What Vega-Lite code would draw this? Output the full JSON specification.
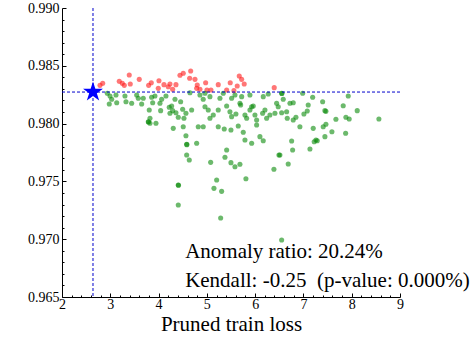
{
  "$schema": "https://vega.github.io/schema/vega-lite/v6.json",
  "width": 338,
  "height": 289,
  "autosize": "none",
  "padding": {"left": 62, "top": 8, "right": 74, "bottom": 42},
  "background": "white",
  "config": {
    "view": {"stroke": null},
    "font": "Liberation Serif",
    "style": {"guide-label": {"font": "Liberation Serif", "fontSize": 14, "fill": "black"}, "guide-title": {"font": "Liberation Serif"}},
    "axis": {"grid": false, "domainColor": "black", "tickColor": "black", "labelFont": "Liberation Serif"}
  },
  "resolve": {"axis": {"x": "independent", "y": "independent"}},
  "datasets": {
    "pts": [
      {"x":2.787,"y":0.98331,"g":"a"},{"x":2.843,"y":0.98349,"g":"a"},{"x":3.186,"y":0.98366,"g":"a"},{"x":3.248,"y":0.98349,"g":"a"},{"x":3.290,"y":0.98331,"g":"a"},{"x":3.393,"y":0.98420,"g":"a"},{"x":3.414,"y":0.98343,"g":"a"},{"x":3.600,"y":0.98383,"g":"a"},{"x":3.795,"y":0.98331,"g":"a"},{"x":3.849,"y":0.98354,"g":"a"},{"x":4.008,"y":0.98371,"g":"a"},{"x":3.994,"y":0.98305,"g":"a"},{"x":4.112,"y":0.98337,"g":"a"},{"x":4.201,"y":0.98319,"g":"a"},{"x":4.236,"y":0.98343,"g":"a"},{"x":4.292,"y":0.98297,"g":"a"},{"x":4.360,"y":0.98337,"g":"a"},{"x":4.443,"y":0.98418,"g":"a"},{"x":4.511,"y":0.98435,"g":"a"},{"x":4.665,"y":0.98455,"g":"a"},{"x":4.644,"y":0.98392,"g":"a"},{"x":4.754,"y":0.98383,"g":"a"},{"x":4.801,"y":0.98334,"g":"a"},{"x":4.789,"y":0.98305,"g":"a"},{"x":4.857,"y":0.98297,"g":"a"},{"x":4.975,"y":0.98354,"g":"a"},{"x":5.002,"y":0.98291,"g":"a"},{"x":5.085,"y":0.98291,"g":"a"},{"x":5.236,"y":0.98337,"g":"a"},{"x":5.410,"y":0.98291,"g":"a"},{"x":5.484,"y":0.98354,"g":"a"},{"x":5.561,"y":0.98285,"g":"a"},{"x":5.629,"y":0.98325,"g":"a"},{"x":5.671,"y":0.98412,"g":"a"},{"x":5.720,"y":0.98383,"g":"a"},{"x":5.774,"y":0.98343,"g":"a"},{"x":6.395,"y":0.98311,"g":"a"},
      {"x":2.938,"y":0.98262,"g":"n"},{"x":2.994,"y":0.98239,"g":"n"},{"x":3.029,"y":0.98210,"g":"n"},{"x":2.979,"y":0.98170,"g":"n"},{"x":3.118,"y":0.98247,"g":"n"},{"x":3.133,"y":0.98181,"g":"n"},{"x":3.304,"y":0.98239,"g":"n"},{"x":3.325,"y":0.98189,"g":"n"},{"x":3.443,"y":0.98176,"g":"n"},{"x":3.547,"y":0.98247,"g":"n"},{"x":3.580,"y":0.98219,"g":"n"},{"x":3.650,"y":0.98170,"g":"n"},{"x":3.683,"y":0.98219,"g":"n"},{"x":3.807,"y":0.98118,"g":"n"},{"x":3.787,"y":0.98016,"g":"n"},{"x":3.792,"y":0.98014,"g":"n"},{"x":3.822,"y":0.98003,"g":"n"},{"x":3.857,"y":0.98228,"g":"n"},{"x":3.878,"y":0.98181,"g":"n"},{"x":3.925,"y":0.98239,"g":"n"},{"x":4.029,"y":0.98176,"g":"n"},{"x":4.043,"y":0.98112,"g":"n"},{"x":4.064,"y":0.98210,"g":"n"},{"x":4.153,"y":0.98239,"g":"n"},{"x":4.221,"y":0.98141,"g":"n"},{"x":4.236,"y":0.98089,"g":"n"},{"x":4.271,"y":0.98152,"g":"n"},{"x":4.292,"y":0.98112,"g":"n"},{"x":4.340,"y":0.98210,"g":"n"},{"x":4.360,"y":0.98094,"g":"n"},{"x":4.408,"y":0.98055,"g":"n"},{"x":4.457,"y":0.98189,"g":"n"},{"x":4.499,"y":0.98124,"g":"n"},{"x":4.526,"y":0.98046,"g":"n"},{"x":4.567,"y":0.98089,"g":"n"},{"x":4.304,"y":0.97959,"g":"n"},{"x":3.822,"y":0.98046,"g":"n"},{"x":3.946,"y":0.98003,"g":"n"},
      {"x":4.650,"y":0.98267,"g":"n"},{"x":4.857,"y":0.98247,"g":"n"},{"x":4.961,"y":0.98262,"g":"n"},{"x":4.925,"y":0.98210,"g":"n"},{"x":5.064,"y":0.98233,"g":"n"},{"x":5.271,"y":0.98219,"g":"n"},{"x":5.340,"y":0.98262,"g":"n"},{"x":5.513,"y":0.98219,"g":"n"},{"x":5.582,"y":0.98247,"g":"n"},{"x":5.721,"y":0.98233,"g":"n"},{"x":5.892,"y":0.98247,"g":"n"},{"x":5.685,"y":0.98176,"g":"n"},{"x":5.928,"y":0.98146,"g":"n"},{"x":6.168,"y":0.98233,"g":"n"},{"x":6.271,"y":0.98256,"g":"n"},{"x":4.685,"y":0.98118,"g":"n"},{"x":4.961,"y":0.98146,"g":"n"},{"x":5.029,"y":0.98118,"g":"n"},{"x":5.064,"y":0.98046,"g":"n"},{"x":5.133,"y":0.98074,"g":"n"},{"x":5.236,"y":0.98118,"g":"n"},{"x":5.410,"y":0.98152,"g":"n"},{"x":5.478,"y":0.98103,"g":"n"},{"x":5.513,"y":0.98060,"g":"n"},{"x":5.602,"y":0.98083,"g":"n"},{"x":5.700,"y":0.98161,"g":"n"},{"x":5.789,"y":0.98074,"g":"n"},{"x":5.824,"y":0.98046,"g":"n"},{"x":5.892,"y":0.98118,"g":"n"},{"x":5.961,"y":0.98152,"g":"n"},{"x":5.996,"y":0.98074,"g":"n"},{"x":6.031,"y":0.98031,"g":"n"},{"x":6.155,"y":0.98089,"g":"n"},{"x":6.203,"y":0.98118,"g":"n"},{"x":6.238,"y":0.98046,"g":"n"},{"x":6.306,"y":0.98074,"g":"n"},{"x":6.410,"y":0.98089,"g":"n"},{"x":6.445,"y":0.98176,"g":"n"},{"x":6.478,"y":0.98146,"g":"n"},
      {"x":6.549,"y":0.98262,"g":"n"},{"x":6.555,"y":0.98260,"g":"n"},{"x":6.582,"y":0.98210,"g":"n"},{"x":6.721,"y":0.98176,"g":"n"},{"x":6.789,"y":0.98181,"g":"n"},{"x":6.845,"y":0.98055,"g":"n"},{"x":6.789,"y":0.98031,"g":"n"},{"x":6.652,"y":0.98103,"g":"n"},{"x":6.549,"y":0.98094,"g":"n"},{"x":6.665,"y":0.98046,"g":"n"},
      {"x":6.984,"y":0.98262,"g":"n"},{"x":7.191,"y":0.98228,"g":"n"},{"x":7.398,"y":0.98189,"g":"n"},{"x":7.928,"y":0.98239,"g":"n"},{"x":7.099,"y":0.98161,"g":"n"},{"x":7.079,"y":0.98109,"g":"n"},{"x":7.010,"y":0.98083,"g":"n"},{"x":7.445,"y":0.98112,"g":"n"},{"x":7.466,"y":0.98106,"g":"n"},{"x":7.824,"y":0.98155,"g":"n"},{"x":8.114,"y":0.98112,"g":"n"},{"x":7.673,"y":0.98037,"g":"n"},{"x":7.880,"y":0.98055,"g":"n"},{"x":7.948,"y":0.98040,"g":"n"},{"x":8.563,"y":0.98040,"g":"n"},{"x":6.927,"y":0.97973,"g":"n"},{"x":7.203,"y":0.97959,"g":"n"},{"x":7.410,"y":0.97973,"g":"n"},{"x":7.466,"y":0.97994,"g":"n"},{"x":7.590,"y":0.97930,"g":"n"},{"x":7.445,"y":0.97887,"g":"n"},{"x":7.259,"y":0.97858,"g":"n"},{"x":7.286,"y":0.97852,"g":"n"},{"x":7.223,"y":0.97843,"g":"n"},{"x":7.874,"y":0.97916,"g":"n"},{"x":7.135,"y":0.97780,"g":"n"},
      {"x":6.756,"y":0.97850,"g":"n"},{"x":6.776,"y":0.97772,"g":"n"},{"x":6.513,"y":0.97728,"g":"n"},
      {"x":4.511,"y":0.97973,"g":"n"},{"x":4.567,"y":0.97895,"g":"n"},{"x":4.582,"y":0.97821,"g":"n"},{"x":4.586,"y":0.97818,"g":"n"},{"x":4.582,"y":0.97728,"g":"n"},{"x":4.636,"y":0.97685,"g":"n"},{"x":4.408,"y":0.97469,"g":"n"},{"x":4.412,"y":0.97467,"g":"n"},{"x":4.822,"y":0.97973,"g":"n"},{"x":4.925,"y":0.97973,"g":"n"},{"x":5.236,"y":0.97973,"g":"n"},{"x":5.360,"y":0.97953,"g":"n"},{"x":5.499,"y":0.97945,"g":"n"},{"x":5.650,"y":0.97979,"g":"n"},{"x":5.754,"y":0.97925,"g":"n"},{"x":6.031,"y":0.97988,"g":"n"},{"x":5.789,"y":0.97858,"g":"n"},{"x":6.099,"y":0.97887,"g":"n"},{"x":6.168,"y":0.97852,"g":"n"},{"x":5.928,"y":0.97830,"g":"n"},{"x":4.789,"y":0.97830,"g":"n"},{"x":5.410,"y":0.97772,"g":"n"},{"x":5.375,"y":0.97709,"g":"n"},{"x":6.493,"y":0.97728,"g":"n"},{"x":5.079,"y":0.97665,"g":"n"},{"x":5.499,"y":0.97662,"g":"n"},{"x":5.582,"y":0.97627,"g":"n"},{"x":5.685,"y":0.97648,"g":"n"},{"x":6.685,"y":0.97651,"g":"n"},{"x":6.389,"y":0.97605,"g":"n"},{"x":5.203,"y":0.97512,"g":"n"},{"x":5.147,"y":0.97440,"g":"n"},{"x":5.306,"y":0.97414,"g":"n"},{"x":5.809,"y":0.97523,"g":"n"},{"x":4.408,"y":0.97296,"g":"n"},{"x":5.286,"y":0.97183,"g":"n"},{"x":6.549,"y":0.96993,"g":"n"}
    ]
  },
  "layer": [
    {
      "data": {"name": "pts"},
      "mark": {"type": "circle", "size": 26, "opacity": 0.6},
      "encoding": {
        "x": {"field": "x", "type": "quantitative", "scale": {"domain": [2, 9], "nice": false, "zero": false},
              "axis": {"orient": "bottom", "title": "Pruned train loss", "values": [2,3,4,5,6,7,8,9], "format": "d",
                       "tickSize": -4, "labelPadding": 4, "titlePadding": 2, "labelFlush": false, "labelOverlap": false,
                       "labelFont": "Liberation Serif", "labelFontSize": 14, "labelColor": "black",
                       "titleFont": "Liberation Serif", "titleFontSize": 21, "titleFontWeight": "normal", "titleColor": "black"}},
        "y": {"field": "y", "type": "quantitative", "scale": {"domain": [0.965, 0.99], "nice": false, "zero": false},
              "axis": {"orient": "left", "title": null, "values": [0.965,0.97,0.975,0.98,0.985,0.99], "format": ".3f",
                       "tickSize": -4, "labelPadding": 7, "labelFlush": false, "labelOverlap": false,
                       "labelFont": "Liberation Serif", "labelFontSize": 14, "labelColor": "black"}},
        "color": {"field": "g", "type": "nominal", "scale": {"domain": ["a", "n"], "range": ["#ff1a1a", "#0a8a0a"]}, "legend": null}
      }
    },
    {
      "data": {"values": [{"x": 2.642}]},
      "mark": {"type": "rule", "color": "#0000cc", "strokeWidth": 1, "strokeDash": [3, 2]},
      "encoding": {"x": {"field": "x", "type": "quantitative",
        "axis": {"orient": "bottom", "title": null, "labels": false, "domain": false, "tickSize": -2,
                 "values": [2.2,2.4,2.6,2.8,3.2,3.4,3.6,3.8,4.2,4.4,4.6,4.8,5.2,5.4,5.6,5.8,6.2,6.4,6.6,6.8,7.2,7.4,7.6,7.8,8.2,8.4,8.6,8.8]}}}
    },
    {
      "data": {"values": [{"y": 0.98273}]},
      "mark": {"type": "rule", "color": "#0000cc", "strokeWidth": 1, "strokeDash": [3, 2]},
      "encoding": {"y": {"field": "y", "type": "quantitative",
        "axis": {"orient": "left", "title": null, "labels": false, "domain": false, "tickSize": -2,
                 "values": [0.966,0.967,0.968,0.969,0.971,0.972,0.973,0.974,0.976,0.977,0.978,0.979,0.981,0.982,0.983,0.984,0.986,0.987,0.988,0.989]}}}
    },
    {
      "data": {"values": [{"x": 2.642, "y": 0.98273}]},
      "mark": {"type": "point", "shape": "M0,-1L0.2245,-0.309L0.951,-0.309L0.363,0.118L0.588,0.809L0,0.382L-0.588,0.809L-0.363,0.118L-0.951,-0.309L-0.2245,-0.309Z", "filled": true, "color": "#0000ff", "size": 440, "opacity": 1},
      "encoding": {
        "x": {"field": "x", "type": "quantitative", "axis": null},
        "y": {"field": "y", "type": "quantitative", "axis": null}
      }
    },
    {
      "data": {"values": [
        {"x": 4.55, "y": 0.96837, "label": "Anomaly ratio: 20.24%"},
        {"x": 4.55, "y": 0.96586, "label": "Kendall: -0.25\u00a0\u00a0(p-value: 0.000%)"}
      ]},
      "mark": {"type": "text", "align": "left", "baseline": "alphabetic", "font": "Liberation Serif", "fontSize": 21, "color": "black"},
      "encoding": {
        "x": {"field": "x", "type": "quantitative", "axis": null},
        "y": {"field": "y", "type": "quantitative", "axis": null},
        "text": {"field": "label"}
      }
    }
  ]
}
